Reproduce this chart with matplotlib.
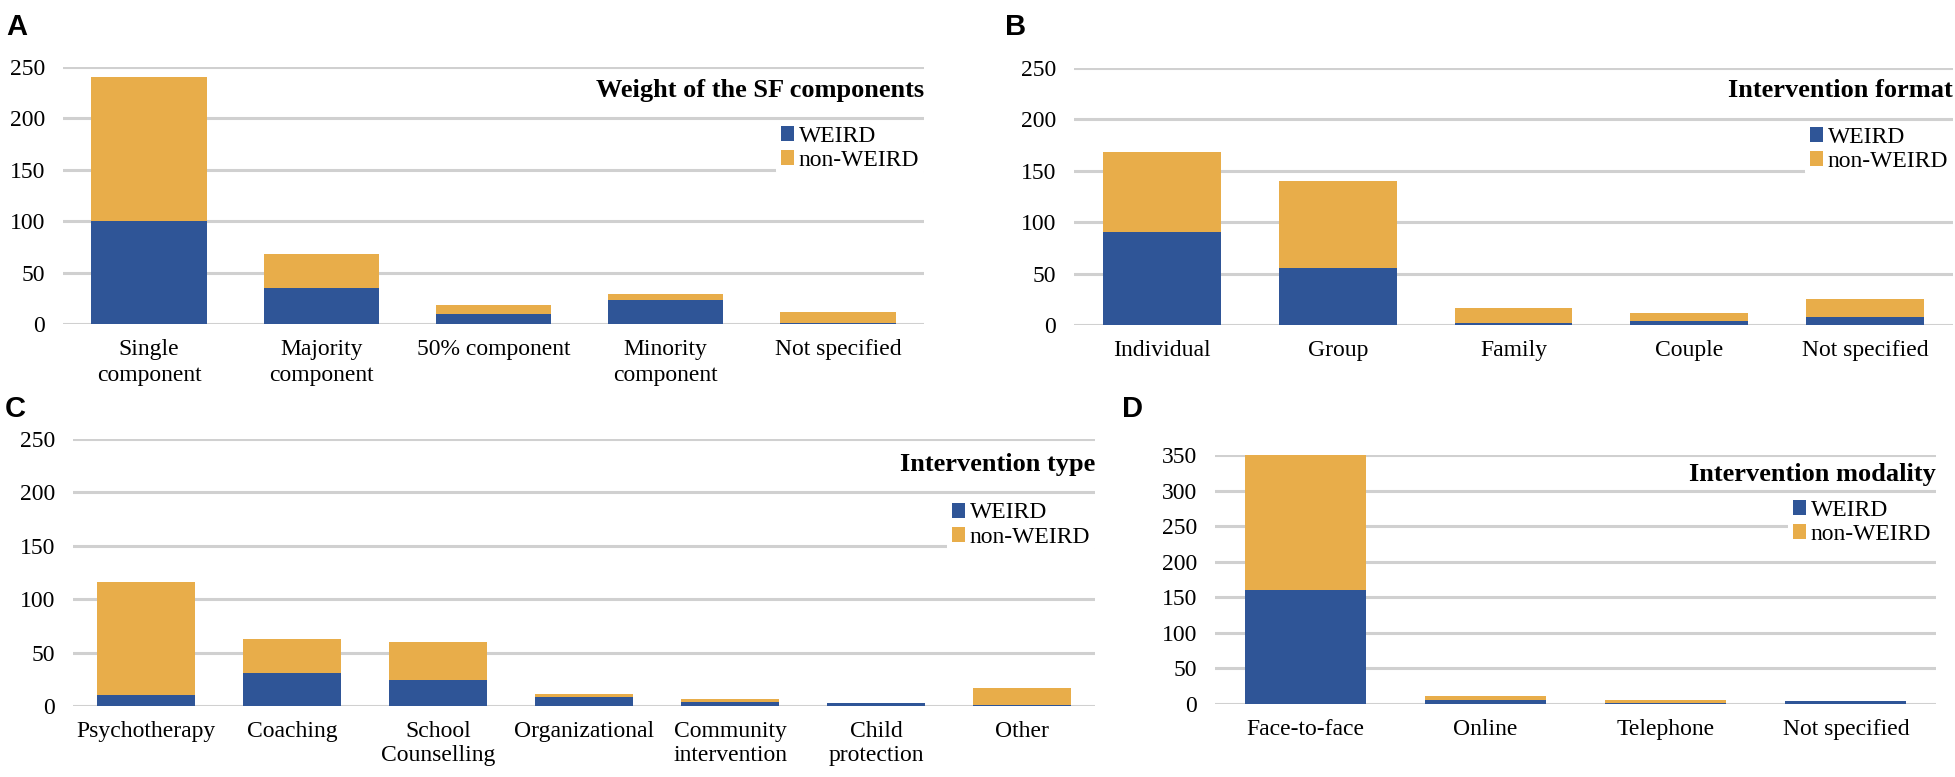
import matplotlib
matplotlib.use("Agg")
import matplotlib.pyplot as plt
import numpy as np

plt.rcParams["font.family"] = ["Liberation Serif", "DejaVu Serif"]

WEIRD_COLOR = "#2F5597"
NON_WEIRD_COLOR = "#E8AD4A"
GRID_COLOR = "#D0D0D0"

# panel A: weight of the SF components
a_cats = ["Single\ncomponent", "Majority\ncomponent", "50% component",
          "Minority\ncomponent", "Not specified"]
a_weird = [100, 35, 10, 23, 1]
a_non_weird = [140, 33, 8, 6, 11]

# panel B: intervention format
b_cats = ["Individual", "Group", "Family", "Couple", "Not specified"]
b_weird = [90, 55, 2, 4, 8]
b_non_weird = [78, 85, 15, 8, 17]

# panel C: intervention type
c_cats = ["Psychotherapy", "Coaching", "School\nCounselling", "Organizational",
          "Community\nintervention", "Child\nprotection", "Other"]
c_weird = [10, 31, 24, 8, 4, 3, 1]
c_non_weird = [106, 32, 36, 3, 3, 0, 16]

# panel D: intervention modality
d_cats = ["Face-to-face", "Online", "Telephone", "Not specified"]
d_weird = [160, 6, 1, 4]
d_non_weird = [190, 5, 5, 0]

W, H = 1955, 777


def box(left, right, bottom, top):
    # pixel box -> figure fraction
    return [left / W, 1 - bottom / H, (right - left) / W, (bottom - top) / H]


def stacked(ax, cats, weird, non_weird, ymax, title, title_y, legend_y, lsp=1.3):
    x = np.arange(len(cats))
    ax.bar(x, weird, width=0.67, color=WEIRD_COLOR, label="WEIRD", zorder=3)
    ax.bar(x, non_weird, width=0.67, bottom=weird, color=NON_WEIRD_COLOR,
           label="non-WEIRD", zorder=3)
    ax.set_xlim(-0.5, len(cats) - 0.5)
    ax.set_ylim(0, ymax)
    ax.set_yticks(np.arange(0, ymax + 1, 50))
    ax.set_xticks(x)
    ax.set_xticklabels(cats, fontsize=17, linespacing=lsp)
    ax.tick_params(axis="both", length=0, labelsize=17)
    ax.tick_params(axis="y", pad=13)
    ax.tick_params(axis="x", pad=11)
    for s in ax.spines.values():
        s.set_visible(False)
    ax.yaxis.grid(True, color=GRID_COLOR, linewidth=2.2, zorder=0)
    ax.set_axisbelow(True)
    ax.text(1.0, title_y, title, transform=ax.transAxes, ha="right",
            va="center", fontsize=19, fontweight="bold", zorder=5,
            bbox=dict(facecolor="white", edgecolor="none", pad=2))
    leg = ax.legend(loc="upper right", bbox_to_anchor=(1.0, legend_y),
                    fontsize=17, frameon=True, facecolor="white",
                    edgecolor="none", framealpha=1, borderaxespad=0,
                    borderpad=0.2, handlelength=0.55, handleheight=0.6,
                    handletextpad=0.2, labelspacing=0.15)
    leg.set_zorder(5)


fig = plt.figure(figsize=(W / 100, H / 100), dpi=100)

ax_a = fig.add_axes(box(63, 924, 324, 67))
stacked(ax_a, a_cats, a_weird, a_non_weird, 250,
        "Weight of the SF components", 0.91, 0.79)

ax_b = fig.add_axes(box(1074, 1953, 325, 68))
stacked(ax_b, b_cats, b_weird, b_non_weird, 250,
        "Intervention format", 0.914, 0.79)

ax_c = fig.add_axes(box(73, 1095, 706, 439))
stacked(ax_c, c_cats, c_weird, c_non_weird, 250,
        "Intervention type", 0.903, 0.78, lsp=1.2)

ax_d = fig.add_axes(box(1215, 1936, 704, 455))
stacked(ax_d, d_cats, d_weird, d_non_weird, 350,
        "Intervention modality", 0.92, 0.84)

# panel letters
for letter, px, py in [("A", 6, 13), ("B", 1005, 13), ("C", 5, 395), ("D", 1122, 395)]:
    fig.text(px / W, 1 - py / H, letter, ha="left", va="top", fontsize=21,
             fontweight="bold", family=["Liberation Sans", "DejaVu Sans"])

fig.savefig("out.png", dpi=100, facecolor="white")
